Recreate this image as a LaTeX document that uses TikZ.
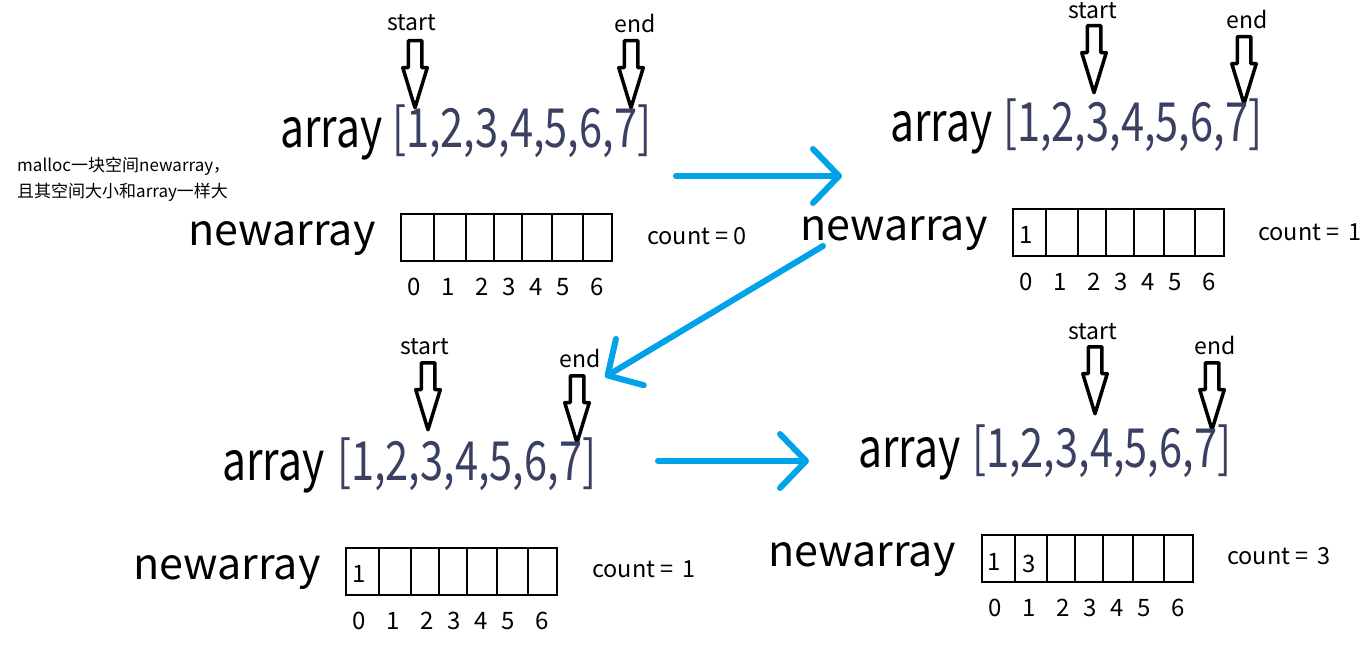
\documentclass[tikz,border=0pt]{standalone}
\usepackage{fontspec}
\usepackage{graphicx}
\setmainfont{Noto Sans CJK SC}
\usetikzlibrary{shapes.arrows, arrows.meta, positioning}

\definecolor{flowblue}{RGB}{0,162,232}
\definecolor{listink}{RGB}{58,64,98}

\newcommand{\szArr}{\fontsize{54}{58}\selectfont}
\newcommand{\szNew}{\fontsize{43}{48}\selectfont}
\newcommand{\szLbl}{\fontsize{23}{26}\selectfont}
\newcommand{\szIdx}{\fontsize{24}{26}\selectfont}
\newcommand{\szCnt}{\fontsize{23.5}{26}\selectfont}
\newcommand{\szNote}{\fontsize{17}{26}\selectfont}
\newcommand{\squish}[2]{\scalebox{#1}[1]{#2}}

\tikzset{
  arrtxt/.style={font=\szArr, inner sep=0pt, anchor=base west},
  listtxt/.style={arrtxt, text=listink},
  newtxt/.style={font=\szNew, inner sep=0pt, anchor=base west},
  lbl/.style={font=\szLbl, inner sep=0pt},
  idx/.style={font=\szIdx, inner sep=0pt},
  cnt/.style={font=\szCnt, inner sep=0pt, anchor=west},
  cellline/.style={line width=1.3pt},
  hollow/.style={single arrow, draw, line width=3.5pt, line join=round,
    inner xsep=0pt, inner ysep=5pt, single arrow head extend=5.5pt,
    single arrow tip angle=34, minimum height=67pt, rotate=-90, anchor=tail},
  flow/.style={draw=flowblue, line width=6pt, line cap=round,
    -{Straight Barb[round, length=26pt, width=54pt]}}
}

\begin{document}
\begin{tikzpicture}[x=1pt, y=-1pt]
    \useasboundingbox (0,0) rectangle (1368,650);

    % note on the left
    \node[font=\szNote, inner sep=0pt, align=left, anchor=north west] (note) at (17,157)
        {malloc一块空间newarray，\\且其空间大小和array一样大};

    % step 1
    \node[lbl] (st1) at (412,23) {start};
    \node[lbl] (en1) at (635,23) {end};
    \node[hollow] (sa1) at (415,39) {};
    \node[hollow] (ea1) at (631,39) {};
    \node[arrtxt] (arr1) at (280,147) {\squish{0.79}{array}};
    \node[listtxt] (lst1) at (392,147) {\squish{0.77}{[1,2,3,4,5,6,7]}};
    \node[newtxt] (new1) at (188,245) {newarray};
    \node[cnt] (cnt1) at (647,236) {count = 0};

    % step 2
    \node[lbl] (st2) at (1093,11) {start};
    \node[lbl] (en2) at (1247,19) {end};
    \node[hollow] (sa2) at (1094,24) {};
    \node[hollow] (ea2) at (1244,35) {};
    \node[arrtxt] (arr2) at (890,142) {\squish{0.79}{array}};
    \node[listtxt] (lst2) at (1003,142) {\squish{0.77}{[1,2,3,4,5,6,7]}};
    \node[newtxt] (new2) at (800,240) {newarray};
    \node[idx] (c2a) at (1026,235) {1};
    \node[cnt] (cnt2) at (1258,232) {count = \,1};

    % step 3
    \node[lbl] (st3) at (425,347) {start};
    \node[lbl] (en3) at (580,358) {end};
    \node[hollow] (sa3) at (428,361) {};
    \node[hollow] (ea3) at (577,374) {};
    \node[arrtxt] (arr3) at (222,480) {\squish{0.79}{array}};
    \node[listtxt] (lst3) at (337,480) {\squish{0.77}{[1,2,3,4,5,6,7]}};
    \node[newtxt] (new3) at (133,579) {newarray};
    \node[idx] (c3a) at (359,574) {1};
    \node[cnt] (cnt3) at (592,569) {count = \,1};

    % step 4
    \node[lbl] (st4) at (1093,332) {start};
    \node[lbl] (en4) at (1215,345) {end};
    \node[hollow] (sa4) at (1095,345) {};
    \node[hollow] (ea4) at (1212,361) {};
    \node[arrtxt] (arr4) at (858,467) {\squish{0.79}{array}};
    \node[listtxt] (lst4) at (972,467) {\squish{0.77}{[1,2,3,4,5,6,7]}};
    \node[newtxt] (new4) at (768,566) {newarray};
    \node[idx] (c4a) at (994,562) {1};
    \node[idx] (c4b) at (1029,564) {3};
    \node[cnt] (cnt4) at (1227,556) {count = \,3};

    % newarray cells and indices
    \foreach \p/\bx/\by in {1/401/214, 2/1013/209, 3/346/548, 4/982/535} {
        \draw[cellline] (\bx,\by) rectangle ++(211,47);
        \foreach \dx in {33,65,93,121,151,182}
            \draw[cellline] (\bx+\dx,\by) -- ++(0,47);
        \foreach \i/\ox in {0/13.5,1/47,2/81,3/108,4/135,5/162,6/196}
            \node[idx] (idx\p-\i) at (\bx+\ox,\by+73) {\i};
    }

    % steps
    \coordinate (f1s) at (676,176);
    \coordinate (f1e) at (842,176);
    \coordinate (f2s) at (823,246);
    \coordinate (f2e) at (605,377);
    \coordinate (f3s) at (658,461);
    \coordinate (f3e) at (809,461);
    \draw[flow] (f1s) -- (f1e);
    \draw[flow] (f2s) -- (f2e);
    \draw[flow] (f3s) -- (f3e);
\end{tikzpicture}
\end{document}
